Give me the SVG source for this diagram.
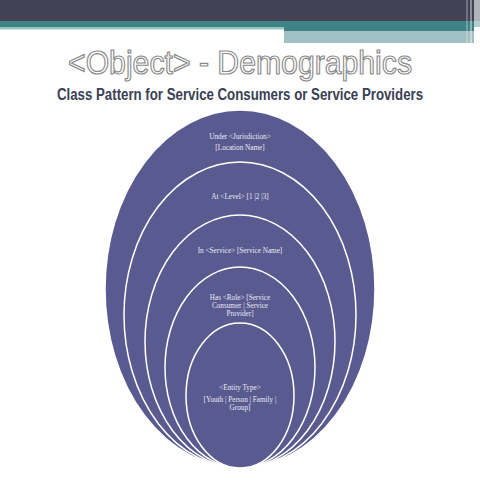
<svg xmlns="http://www.w3.org/2000/svg" width="480" height="480" viewBox="0 0 480 480">
<style>
.ring{fill:#595a90;stroke:#ffffff;stroke-width:1.5}
.lbl{font-family:"Liberation Serif","Times New Roman",serif;font-size:7.2px;fill:#ecebf4;text-anchor:middle}
</style>
<rect x="0" y="0" width="480" height="480" fill="#ffffff"/>
<g id="header">
<rect x="0" y="0" width="480" height="21" fill="#424254"/>
<rect x="0" y="21" width="480" height="6" fill="#3f8286"/>
<rect x="0" y="27" width="284" height="2.5" fill="#9cc2c3"/>
<rect x="284" y="27" width="190" height="4" fill="#3f8286"/>
<rect x="284" y="31" width="190" height="12" fill="#a0c0c3"/>
<rect x="466" y="0" width="2" height="43" fill="#ffffff" opacity="0.25"/>
<rect x="470" y="0" width="2" height="43" fill="#ffffff" opacity="0.4"/>
<rect x="474" y="0" width="6" height="43" fill="#ffffff" opacity="0.6"/>
</g>
<g id="title">
<text x="240" y="74" text-anchor="middle" font-family="Liberation Sans, Arial, sans-serif" font-size="33" fill="#ffffff" stroke="#8a8a8a" stroke-width="1.2" textLength="344" lengthAdjust="spacingAndGlyphs">&lt;Object&gt; - Demographics</text>
<text transform="translate(240 99.5) scale(0.78 1)" x="0" y="0" text-anchor="middle" font-family="Liberation Sans, Arial, sans-serif" font-weight="bold" font-size="17" fill="#3a4055">Class Pattern for Service Consumers or Service Providers</text>
</g>
<g id="node-jurisdiction">
<ellipse class="ring" cx="240" cy="289" rx="135" ry="179"/>
<text class="lbl" x="240" y="139">Under &lt;Jurisdiction&gt;</text>
<text class="lbl" x="240" y="150">[Location Name]</text>
</g>
<g id="node-level">
<ellipse class="ring" cx="240" cy="315" rx="116" ry="153"/>
<text class="lbl" x="240" y="199">At &lt;Level&gt; [1 |2 |3]</text>
</g>
<g id="node-service">
<ellipse class="ring" cx="240" cy="341.5" rx="95" ry="126.5"/>
<text class="lbl" x="240" y="253">In &lt;Service&gt; [Service Name]</text>
</g>
<g id="node-role">
<ellipse class="ring" cx="240" cy="367.5" rx="75" ry="100.5"/>
<text class="lbl" x="240" y="299.5">Has &lt;Role&gt; [Service</text>
<text class="lbl" x="240" y="307.5">Consumer | Service</text>
<text class="lbl" x="240" y="315.5">Provider]</text>
</g>
<g id="node-entity">
<ellipse class="ring" cx="240" cy="395.5" rx="54" ry="72.5"/>
<text class="lbl" x="240" y="389.5">&lt;Entity Type&gt;</text>
<text class="lbl" x="240" y="401.5">[Youth | Person | Family |</text>
<text class="lbl" x="240" y="409.5">Group]</text>
</g>
<g id="connectors"/>
</svg>
